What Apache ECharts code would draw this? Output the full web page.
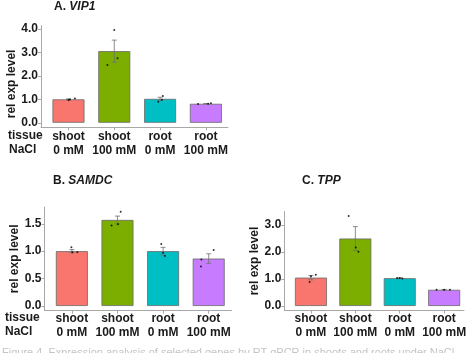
<!DOCTYPE html>
<html>
<head>
<meta charset="utf-8">
<script src="https://cdn.jsdelivr.net/npm/echarts@6/dist/echarts.min.js"></script>
<style>
  html, body { margin: 0; padding: 0; background: #fff; }
  #chart { width: 474px; height: 353px; }
</style>
</head>
<body>
<div id="chart"></div>
<script>
// x labels (two rows)
const tissue = ['shoot', 'shoot', 'root', 'root'];
const nacl = ['0 mM', '100 mM', '0 mM', '100 mM'];

// A. VIP1
const vip1Mean = [1.0, 3.06, 1.02, 0.81];
const vip1Se = [0.02, 0.47, 0.07, 0.01];
// replicate values and their jitter (in category units)
const vip1Reps = [[0.97, 0.99, 1.04], [2.47, 2.75, 3.96], [0.9, 0.98, 1.14], [0.8, 0.81, 0.83]];
const vip1Jit = [[0, 0.03, 0.14], [-0.15, 0.07, 0], [-0.04, 0.04, 0.06], [-0.17, 0.05, 0.11]];
const vip1Ticks = [0, 1, 2, 3, 4];

// B. SAMDC
const samdcMean = [1.0, 1.57, 1.0, 0.865];
const samdcSe = [0.03, 0.07, 0.07, 0.087];
const samdcReps = [[1.07, 0.98, 0.98], [1.47, 1.49, 1.72], [1.13, 0.91, 0.97], [0.72, 0.85, 1.02]];
const samdcJit = [[-0.01, 0.01, 0.12], [-0.13, 0.01, 0.07], [-0.04, 0.04, 0], [-0.17, -0.16, 0.11]];
const samdcTicks = [0, 0.5, 1, 1.5];

// C. TPP
const tppMean = [1.05, 2.5, 1.03, 0.6];
const tppSe = [0.08, 0.44, 0.01, 0.005];
const tppReps = [[0.89, 1.1, 1.16], [3.33, 2.17, 2.01], [1.04, 1.02, 1.04], [0.6, 0.6, 0.6]];
const tppJit = [[-0.03, 0, 0.11], [-0.15, 0.01, 0.07], [-0.06, 0.06, 0], [-0.17, 0.13, 0]];
const tppTicks = [0, 1, 2, 3];

const colors = ['#F8766D', '#7CAE00', '#00BFC4', '#C77CFF'];
const font = '"Liberation Sans", Arial, sans-serif';
const txt = '#1a1a1a';
const axisGray = '#a8a8a8';

let myChart = echarts.init(document.getElementById('chart'));

function xAxisOf(i, max, margin) {
    return {
        type: 'value', gridIndex: i, min: 0.4, max: max,
        axisLine: { show: true, onZero: false, lineStyle: { color: axisGray, width: 1 } },
        axisTick: { show: true, length: 3, customValues: [1, 2, 3, 4], lineStyle: { color: axisGray } },
        splitLine: { show: false },
        axisLabel: {
            customValues: [1, 2, 3, 4],
            margin: margin,
            fontFamily: font, fontWeight: 'bold', fontSize: 12, color: txt, lineHeight: 14,
            formatter: v => tissue[Math.round(v) - 1] + '\n' + nacl[Math.round(v) - 1]
        }
    };
}

function yAxisOf(i, min, max, ticks, namePad) {
    return {
        type: 'value', gridIndex: i, min: min, max: max,
        axisLine: { show: true, onZero: false, lineStyle: { color: axisGray, width: 1 } },
        axisTick: { show: true, length: 3, customValues: ticks, lineStyle: { color: axisGray } },
        splitLine: { show: false },
        axisLabel: {
            customValues: ticks, margin: 3,
            fontFamily: font, fontWeight: 'bold', fontSize: 12, color: txt,
            formatter: v => v.toFixed(1)
        },
        name: 'rel exp level', nameLocation: 'middle', nameGap: 19,
        nameTextStyle: { fontFamily: font, fontWeight: 'bold', fontSize: 12, color: txt, padding: namePad }
    };
}

function seriesOf(i, mean, se, reps, jit) {
    let bars = mean.map((m, k) => ({
        value: [k + 1, m],
        itemStyle: { color: colors[k] }
    }));
    let pts = [];
    reps.forEach((r, k) => r.forEach((v, j) => pts.push([k + 1 + jit[k][j], v])));
    let err = mean.map((m, k) => [k + 1, m, se[k]]);
    return [
        {
            type: 'bar', xAxisIndex: i, yAxisIndex: i, data: bars, barWidth: 32,
            itemStyle: { borderColor: '#6a6a6a', borderWidth: 0.8 }, silent: true
        },
        {
            // error bars: mean +/- se
            type: 'custom', xAxisIndex: i, yAxisIndex: i, data: err, z: 5, silent: true,
            renderItem: (params, api) => {
                let lo = api.coord([api.value(0), api.value(1) - api.value(2)]);
                let hi = api.coord([api.value(0), api.value(1) + api.value(2)]);
                let st = { stroke: '#707070', lineWidth: 0.8 };
                return {
                    type: 'group', children: [
                        { type: 'line', shape: { x1: lo[0], y1: lo[1], x2: hi[0], y2: hi[1] }, style: st },
                        { type: 'line', shape: { x1: hi[0] - 2.5, y1: hi[1], x2: hi[0] + 2.5, y2: hi[1] }, style: st },
                        { type: 'line', shape: { x1: lo[0] - 2.5, y1: lo[1], x2: lo[0] + 2.5, y2: lo[1] }, style: st }
                    ]
                };
            }
        },
        {
            type: 'scatter', xAxisIndex: i, yAxisIndex: i, data: pts, z: 6, silent: true,
            symbolSize: 2, itemStyle: { color: '#000' }
        }
    ];
}

function titleOf(letter, gene, left, top) {
    return {
        text: '{a|' + letter + '. }{b|' + gene + '}', left: left, top: top, padding: 0,
        textStyle: {
            rich: {
                a: { fontFamily: font, fontWeight: 'bold', fontSize: 12, color: txt },
                b: { fontFamily: font, fontWeight: 'bold', fontStyle: 'italic', fontSize: 12, color: txt }
            }
        }
    };
}

function rowLabel(text, x, y) {
    return {
        type: 'text', x: x, y: y,
        style: { text: text, font: 'bold 12px ' + font, fill: txt, verticalAlign: 'middle' }
    };
}

myChart.setOption({
    animation: false,
    title: [
        titleOf('A', 'VIP1', 54, 1),
        titleOf('B', 'SAMDC', 53, 175),
        titleOf('C', 'TPP', 302, 175)
    ],
    grid: [
        { left: 41, top: 25.6, width: 187, height: 101.6 },
        { left: 44.5, top: 207, width: 187, height: 103.7 },
        { left: 284.3, top: 211.5, width: 179.7, height: 99 }
    ],
    xAxis: [xAxisOf(0, 4.483, 2), xAxisOf(1, 4.5, 1), xAxisOf(2, 4.447, 1)],
    yAxis: [
        yAxisOf(0, -0.19, 4.15, vip1Ticks, [0, 15, 0, 0]),
        yAxisOf(1, -0.086, 1.806, samdcTicks, 0),
        yAxisOf(2, -0.167, 3.5, tppTicks, 0)
    ],
    series: [].concat(
        seriesOf(0, vip1Mean, vip1Se, vip1Reps, vip1Jit),
        seriesOf(1, samdcMean, samdcSe, samdcReps, samdcJit),
        seriesOf(2, tppMean, tppSe, tppReps, tppJit)
    ),
    graphic: [
        rowLabel('tissue', 8, 136),
        rowLabel('NaCl', 9, 149.5),
        rowLabel('tissue', 5, 317.5),
        rowLabel('NaCl', 5, 331.8),
        {
            // caption cut off at the bottom edge
            type: 'text', x: 2, y: 347,
            style: {
                text: 'Figure 4. Expression analysis of selected genes by RT-qPCR in shoots and roots under NaCl',
                font: '11px ' + font, fill: '#c4c4c4'
            }
        }
    ]
});
</script>
</body>
</html>
